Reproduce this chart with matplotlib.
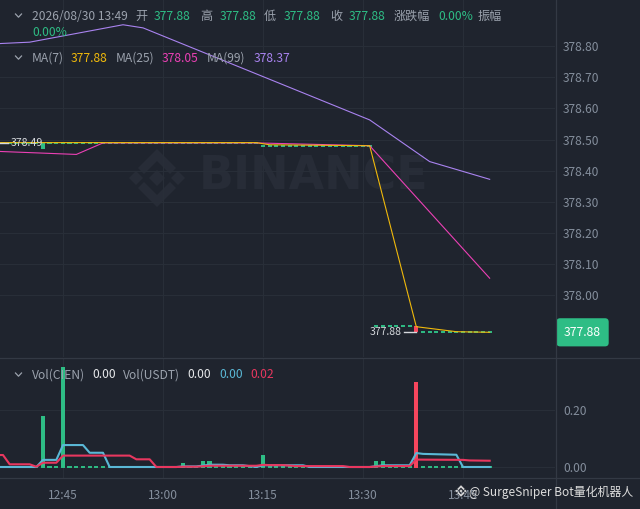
import numpy as np
import pandas as pd
import matplotlib
matplotlib.use("Agg")
import matplotlib.pyplot as plt
import matplotlib.dates as mdates
from matplotlib.patches import Polygon
from matplotlib.transforms import blended_transform_factory

plt.rcParams['font.family'] = ['Noto Sans CJK SC', 'DejaVu Sans']

# ------------------------------------------------------------------ data
DAY = "2026-08-30"
START = "12:35"          # first 1-minute candle

candle_open = [
    378.49, 378.49, 378.49, 378.49, 378.49, 378.49, 378.49,          # 12:35-12:41
    378.47,                                                          # 12:42
    378.49, 378.49, 378.49, 378.49, 378.49, 378.49, 378.49, 378.49,  # 12:43-12:50
    378.49, 378.49, 378.49, 378.49, 378.49, 378.49, 378.49, 378.49,  # 12:51-12:58
    378.49, 378.49, 378.49, 378.49, 378.49, 378.49, 378.49, 378.49,  # 12:59-13:06
    378.49, 378.49, 378.49, 378.49, 378.49, 378.49, 378.49, 378.49,  # 13:07-13:14
    378.48, 378.48, 378.48, 378.48, 378.48, 378.48, 378.48, 378.48,  # 13:15-13:22
    378.48, 378.48, 378.48, 378.48, 378.48, 378.48, 378.48, 378.48,  # 13:23-13:30
    378.48,                                                          # 13:31
    377.90, 377.90, 377.90, 377.90, 377.90, 377.90,                  # 13:32-13:37
    377.90,                                                          # 13:38
    377.88, 377.88, 377.88, 377.88, 377.88, 377.88, 377.88, 377.88,  # 13:39-13:46
    377.88, 377.88, 377.88,                                          # 13:47-13:49
]
candle_close = [
    378.49, 378.49, 378.49, 378.49, 378.49, 378.49, 378.49,
    378.49,
    378.49, 378.49, 378.49, 378.49, 378.49, 378.49, 378.49, 378.49,
    378.49, 378.49, 378.49, 378.49, 378.49, 378.49, 378.49, 378.49,
    378.49, 378.49, 378.49, 378.49, 378.49, 378.49, 378.49, 378.49,
    378.49, 378.49, 378.49, 378.49, 378.49, 378.49, 378.49, 378.49,
    378.48, 378.48, 378.48, 378.48, 378.48, 378.48, 378.48, 378.48,
    378.48, 378.48, 378.48, 378.48, 378.48, 378.48, 378.48, 378.48,
    378.48,
    377.90, 377.90, 377.90, 377.90, 377.90, 377.90,
    377.88,
    377.88, 377.88, 377.88, 377.88, 377.88, 377.88, 377.88, 377.88,
    377.88, 377.88, 377.88,
]
volume = [
    0, 0, 0, 0, 0, 0, 0,
    0.18,
    0, 0, 0.35, 0, 0, 0, 0, 0,
    0, 0, 0, 0, 0, 0, 0, 0,
    0, 0, 0, 0, 0.013, 0, 0, 0.022,
    0.022, 0, 0, 0, 0, 0, 0, 0,
    0.042, 0, 0, 0, 0, 0, 0, 0,
    0, 0, 0, 0, 0, 0, 0, 0,
    0,
    0.022, 0.022, 0, 0, 0, 0,
    0.30,
    0, 0, 0, 0, 0, 0, 0, 0,
    0, 0, 0,
]

ma7_times = ["12:35", "13:14", "13:16", "13:31", "13:38", "13:44", "13:49"]
ma7_vals = [378.490, 378.490, 378.483, 378.480, 377.898, 377.882, 377.880]
ma25_times = ["12:35", "12:47", "12:51", "13:14", "13:31", "13:49"]
ma25_vals = [378.462, 378.452, 378.489, 378.489, 378.480, 378.054]
ma99_times = ["12:35", "12:40", "12:54", "12:57", "13:31", "13:40", "13:49"]
ma99_vals = [378.808, 378.813, 378.869, 378.859, 378.563, 378.429, 378.372]

vma_a_times = ["12:35", "12:41", "12:42", "12:44", "12:45", "12:48", "12:49", "12:51",
               "12:52", "13:02", "13:03", "13:05", "13:06", "13:07", "13:09", "13:10",
               "13:12", "13:13", "13:14", "13:15", "13:21", "13:22", "13:31", "13:32",
               "13:33", "13:37", "13:38", "13:39", "13:44", "13:45", "13:49"]
vma_a_vals = [0.0, 0.0, 0.025, 0.025, 0.077, 0.077, 0.050, 0.050,
              0.0, 0.0, 0.002, 0.002, 0.005, 0.008, 0.008, 0.006,
              0.006, 0.003, 0.0, 0.006, 0.006, 0.0, 0.0, 0.003,
              0.006, 0.006, 0.049, 0.046, 0.043, 0.0, 0.0]
vma_b_times = ["12:35", "12:36", "12:37", "12:40", "12:41", "12:42", "12:44", "12:45",
               "12:55", "12:56", "12:58", "12:59", "13:02", "13:03", "13:05", "13:06",
               "13:07", "13:14", "13:15", "13:16", "13:18", "13:19", "13:20", "13:27",
               "13:28", "13:31", "13:32", "13:33", "13:37", "13:38", "13:45", "13:46",
               "13:49"]
vma_b_vals = [0.042, 0.042, 0.0095, 0.0095, 0.001, 0.015, 0.015, 0.040,
              0.040, 0.027, 0.027, 0.0, 0.0, 0.001, 0.001, 0.0027,
              0.0044, 0.0044, 0.0076, 0.0066, 0.0066, 0.0049, 0.0032, 0.0032,
              0.0, 0.0, 0.0017, 0.0034, 0.0034, 0.026, 0.025, 0.023,
              0.022]

price_ticks = [378.00, 378.10, 378.20, 378.30, 378.40, 378.50, 378.60, 378.70, 378.80]
vol_ticks = [0.00, 0.20]
time_ticks = ["12:45", "13:00", "13:15", "13:30", "13:45"]

# ------------------------------------------------------------------ style
BG = '#1f242e'
GRID = '#282e38'
SEP = '#333944'
AXTXT = '#848e9c'
LBL = '#9ba2ad'
GREEN = '#2ebd85'
RED = '#f6465d'
YEL = '#f0b90b'
PINK = '#eb40b5'
PURP = '#a983f0'
CYAN = '#5ab8d6'
VRED = '#e8375f'
WM = '#272c37'

W, H = 640, 509
fig = plt.figure(figsize=(W / 100, H / 100), dpi=100, facecolor=BG)


def rect(x0, y0, x1, y1):
    return [x0 / W, 1 - y1 / H, (x1 - x0) / W, (y1 - y0) / H]


# background layer (watermark)
bgax = fig.add_axes([0, 0, 1, 1], zorder=0)
bgax.set_xlim(0, W)
bgax.set_ylim(H, 0)
bgax.axis('off')

ax_p = fig.add_axes(rect(0, 0, 555, 357), zorder=1)
ax_v = fig.add_axes(rect(0, 358, 555, 478), zorder=1)
ov = fig.add_axes([0, 0, 1, 1], zorder=5)
ov.set_xlim(0, W)
ov.set_ylim(H, 0)
ov.axis('off')
ov.patch.set_alpha(0)


def tnum(lst):
    return mdates.date2num(pd.to_datetime([f"{DAY} {s}" for s in lst]).values)


times = pd.date_range(f"{DAY} {START}", periods=len(candle_close), freq="min")
x = mdates.date2num(times.values)
MIN = 1.0 / 1440
o = np.array(candle_open)
c = np.array(candle_close)
v = np.array(volume)
up = c >= o
cols = np.where(up, GREEN, RED)
bw = 0.65 * MIN

ref = tnum(["12:45"])[0]
xl = (ref - 9.45 * MIN, ref + 73.8 * MIN)

# watermark logo + text
def logo(cx, cy, s, color, ax):
    pts = [
        [(0, -8), (8, 0), (0, 8), (-8, 0)],
        [(-21, -7), (-14, 0), (-21, 7), (-28, 0)],
        [(21, -7), (28, 0), (21, 7), (14, 0)],
        [(0, -29), (19, -10), (13, -4), (0, -17), (-13, -4), (-19, -10)],
        [(0, 29), (19, 10), (13, 4), (0, 17), (-13, 4), (-19, 10)],
    ]
    for p in pts:
        ax.add_patch(Polygon([(cx + s * a, cy + s * b) for a, b in p], closed=True,
                             facecolor=color, edgecolor='none'))


logo(157, 178, 1.0, WM, bgax)
bgax.text(199, 177, "BINANCE", fontsize=33, fontweight='bold', color=WM,
          family='DejaVu Sans', va='center', ha='left')

for ax in (ax_p, ax_v):
    ax.set_facecolor('none')
    for s in ax.spines.values():
        s.set_visible(False)
    ax.set_xlim(*xl)
    ax.set_xticks(tnum(time_ticks))
    ax.grid(True, color=GRID, lw=0.8)
    ax.set_axisbelow(True)
    ax.yaxis.tick_right()
    ax.tick_params(axis='both', length=0, labelcolor=AXTXT, labelsize=8.6)
    ax.tick_params(axis='y', pad=5.9)

# ---------------- price panel
ax_p.set_ylim(377.8006, 378.9486)
ax_p.set_yticks(price_ticks)
ax_p.set_yticklabels([f"{p:.2f}" for p in price_ticks])
ax_p.tick_params(axis='x', labelbottom=False)

doji = o == c
ax_p.hlines(c[doji], x[doji] - bw / 2, x[doji] + bw / 2, colors=cols[doji], lw=1.4, zorder=2)
ax_p.bar(x[~doji], (c - o)[~doji], bottom=o[~doji], width=bw, color=cols[~doji], zorder=2)

ax_p.plot(tnum(ma99_times), ma99_vals, color=PURP, lw=0.8, zorder=3)
ax_p.plot(tnum(ma25_times), ma25_vals, color=PINK, lw=0.8, zorder=3)
ax_p.plot(tnum(ma7_times), ma7_vals, color=YEL, lw=0.8, zorder=4)

# high / low markers
hi = np.maximum(o, c)
lo = np.minimum(o, c)
ih = int(np.argmax(hi))
il = int(np.argmin(lo))
ax_p.plot([x[ih], x[ih] + 1.8 * MIN], [hi[ih], hi[ih]], color='#d5d8dc', lw=1.0, zorder=5)
ax_p.text(x[ih] + 2.2 * MIN, hi[ih], f"{hi[ih]:.2f}", color='#d5d8dc', fontsize=7.6,
          va='center', ha='left', zorder=5)
ax_p.plot([x[il] - 1.8 * MIN, x[il]], [lo[il], lo[il]], color='#d5d8dc', lw=1.0, zorder=5)
ax_p.text(x[il] - 2.2 * MIN, lo[il], f"{lo[il]:.2f}", color='#d5d8dc', fontsize=7.6,
          va='center', ha='right', zorder=5)

# current price tag
tr = blended_transform_factory(ax_p.transAxes, ax_p.transData)
ax_p.text(564 / 555, c[-1], f"{c[-1]:.2f}", transform=tr, color='white', fontsize=8.8,
          va='center', ha='left', clip_on=False, zorder=6,
          bbox=dict(boxstyle='round,pad=0.62,rounding_size=0.3', fc=GREEN, ec='none'))

# ---------------- volume panel
ax_v.set_ylim(-0.0386, 0.3825)
ax_v.set_yticks(vol_ticks)
ax_v.set_yticklabels([f"{t:.2f}" for t in vol_ticks])
ax_v.xaxis.set_major_formatter(mdates.DateFormatter('%H:%M'))
ax_v.tick_params(axis='x', pad=8)
ax_v.bar(x, v, width=bw, color=cols, zorder=2)
ax_v.hlines(np.zeros_like(v), x - bw / 2, x + bw / 2, colors=cols, lw=1.4, zorder=2)
ax_v.plot(tnum(vma_a_times), vma_a_vals, color=CYAN, lw=1.5, zorder=3)
ax_v.plot(tnum(vma_b_times), vma_b_vals, color=VRED, lw=1.5, zorder=3)

# ---------------- separators
ov.plot([0, W], [357.5, 357.5], color=SEP, lw=0.9)
ov.plot([0, W], [478, 478], color=SEP, lw=0.9)
ov.plot([555.5, 555.5], [0, H], color=SEP, lw=0.9)


# ---------------- legends
def chevron(y):
    ov.plot([15.5, 18.5, 21.5], [y - 2, y + 1.2, y - 2], color=LBL, lw=0.9)


FS = 8.7
chevron(16)
last = times[-1]
chg = (c[-1] - o[-1]) / o[-1] * 100
amp = (hi[-1] - lo[-1]) / o[-1] * 100
hdr = [(last.strftime("%Y/%m/%d %H:%M"), 32, LBL), ("开", 135, LBL), (f"{o[-1]:.2f}", 154, GREEN),
       ("高", 200, LBL), (f"{hi[-1]:.2f}", 220, GREEN), ("低", 264, LBL), (f"{lo[-1]:.2f}", 284, GREEN),
       ("收", 330, LBL), (f"{c[-1]:.2f}", 349, GREEN), ("涨跌幅", 394, LBL),
       (f"{chg:.2f}%", 438, GREEN), ("振幅", 478, LBL)]
for t, xx, col in hdr:
    ov.text(xx, 16, t, color=col, fontsize=FS, va='center', ha='left')
ov.text(32, 32, f"{amp:.2f}%", color=GREEN, fontsize=FS, va='center', ha='left')

chevron(58)
mal = [("MA(7)", 32, LBL), (f"{ma7_vals[-1]:.2f}", 71, YEL), ("MA(25)", 116, LBL),
       (f"{ma25_vals[-1]:.2f}", 162, PINK), ("MA(99)", 207, LBL), (f"{ma99_vals[-1]:.2f}", 254, PURP)]
for t, xx, col in mal:
    ov.text(xx, 58, t, color=col, fontsize=FS, va='center', ha='left')

chevron(375)
vl = [("Vol(CIEN)", 32, LBL), (f"{v[-1]:.2f}", 92, '#e6e8ea'), ("Vol(USDT)", 123, LBL),
      (f"{v[-1] * c[-1]:.2f}", 187, '#e6e8ea'), (f"{vma_a_vals[-1]:.2f}", 219, CYAN),
      (f"{vma_b_vals[-1]:.2f}", 250, VRED)]
for t, xx, col in vl:
    ov.text(xx, 375, t, color=col, fontsize=FS, va='center', ha='left')

# bottom-right watermark
logo(461, 491, 0.2, '#d8d8d8', ov)
ov.text(469, 492, "@ SurgeSniper Bot量化机器人", color='#dcdcdc', fontsize=8.6,
        va='center', ha='left')

fig.savefig("out.png", dpi=100, facecolor=BG)
